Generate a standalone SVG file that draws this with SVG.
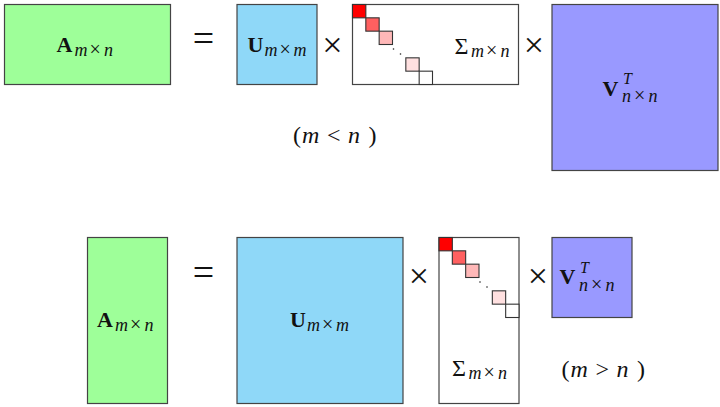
<svg xmlns="http://www.w3.org/2000/svg" width="720" height="407" viewBox="0 0 720 407">
<style>
.box{stroke:#444;stroke-width:1.2}
.a{fill:#9eff99}.u{fill:#8fd8f8}.v{fill:#9999ff}.s{fill:#fff}
.sq{stroke:#333;stroke-width:1.1}
text{font-family:"Liberation Serif","Times New Roman",serif;fill:#111}
.b{font-weight:bold;font-size:22px}
.sub{font-style:italic;font-size:18px}
.subr{font-style:normal;font-size:20px}
.sup{font-style:italic;font-size:16px}
.op{font-size:36px;text-anchor:middle}
.eq{font-size:38px;text-anchor:middle}
.par{font-size:24px}
.it{font-style:italic}
.sig{font-size:24px}
</style>
<rect width="720" height="407" fill="#fff"/>

<!-- top row: m < n -->
<g id="A1">
<rect class="box a" x="4.5" y="4.5" width="166" height="80"/>
<text><tspan class="b" x="56.5" y="52">A</tspan><tspan class="sub" x="74.5" y="55.5">m</tspan><tspan class="subr" x="89.5" y="55.5">×</tspan><tspan class="sub" x="104" y="55.5">n</tspan></text>
</g>
<text class="eq" x="203.5" y="51">=</text>
<g id="U1">
<rect class="box u" x="237" y="4.5" width="80" height="80"/>
<text><tspan class="b" x="247.5" y="52">U</tspan><tspan class="sub" x="264.5" y="55.5">m</tspan><tspan class="subr" x="279.5" y="55.5">×</tspan><tspan class="sub" x="293.5" y="55.5">m</tspan></text>
</g>
<text class="op" x="332.5" y="57">×</text>
<g id="S1">
<rect class="box s" x="352.5" y="4.5" width="166" height="80"/>
<rect class="sq" fill="#ff0000" x="352.5" y="4.5" width="13.33" height="13.33"/>
<rect class="sq" fill="#ff6060" x="365.83" y="17.83" width="13.33" height="13.33"/>
<rect class="sq" fill="#ffb8b8" x="379.17" y="31.17" width="13.33" height="13.33"/>
<circle cx="393.5" cy="49" r="0.8" fill="#222"/>
<circle cx="400.5" cy="54" r="0.8" fill="#222"/>
<rect class="sq" fill="#ffe0e0" x="405.83" y="57.83" width="13.33" height="13.33"/>
<rect class="sq" fill="#ffffff" x="419.17" y="71.17" width="13.33" height="13.33"/>
<text><tspan class="sig" x="454.5" y="53.5">Σ</tspan><tspan class="sub" x="471" y="57">m</tspan><tspan class="subr" x="486" y="57">×</tspan><tspan class="sub" x="500.5" y="57">n</tspan></text>
</g>
<text class="op" x="534" y="57">×</text>
<g id="V1">
<rect class="box v" x="552" y="4.5" width="166" height="166"/>
<text><tspan class="b" x="602.5" y="95.5">V</tspan><tspan class="sup" x="623" y="84">T</tspan><tspan class="sub" x="622" y="102">n</tspan><tspan class="subr" x="634" y="102">×</tspan><tspan class="sub" x="648.5" y="102">n</tspan></text>
</g>
<text class="par"><tspan x="293" y="143">(</tspan><tspan class="it" x="302" y="143">m</tspan><tspan x="327" y="143">&lt;</tspan><tspan class="it" x="348" y="143">n</tspan><tspan x="368.5" y="143">)</tspan></text>

<!-- bottom row: m > n -->
<g id="A2">
<rect class="box a" x="87.5" y="237.5" width="80" height="166"/>
<text><tspan class="b" x="97" y="327">A</tspan><tspan class="sub" x="115" y="330.5">m</tspan><tspan class="subr" x="130" y="330.5">×</tspan><tspan class="sub" x="144.5" y="330.5">n</tspan></text>
</g>
<text class="eq" x="203.5" y="285">=</text>
<g id="U2">
<rect class="box u" x="237" y="237.5" width="166" height="166"/>
<text><tspan class="b" x="290" y="327">U</tspan><tspan class="sub" x="307" y="330.5">m</tspan><tspan class="subr" x="322" y="330.5">×</tspan><tspan class="sub" x="336" y="330.5">m</tspan></text>
</g>
<text class="op" x="419" y="287.5">×</text>
<g id="S2">
<rect class="box s" x="439" y="237.5" width="80" height="166"/>
<rect class="sq" fill="#ff0000" x="439" y="237.5" width="13.33" height="13.33"/>
<rect class="sq" fill="#ff6060" x="452.33" y="250.83" width="13.33" height="13.33"/>
<rect class="sq" fill="#ffb8b8" x="465.67" y="264.17" width="13.33" height="13.33"/>
<circle cx="480" cy="282" r="0.8" fill="#222"/>
<circle cx="487" cy="287" r="0.8" fill="#222"/>
<rect class="sq" fill="#ffe0e0" x="492.33" y="290.83" width="13.33" height="13.33"/>
<rect class="sq" fill="#ffffff" x="505.67" y="304.17" width="13.33" height="13.33"/>
<text><tspan class="sig" x="452" y="375.5">Σ</tspan><tspan class="sub" x="468.5" y="379">m</tspan><tspan class="subr" x="483.5" y="379">×</tspan><tspan class="sub" x="498" y="379">n</tspan></text>
</g>
<text class="op" x="538" y="287.5">×</text>
<g id="V2">
<rect class="box v" x="552" y="237.5" width="80" height="80"/>
<text><tspan class="b" x="559.5" y="284">V</tspan><tspan class="sup" x="580" y="272.5">T</tspan><tspan class="sub" x="579" y="290.5">n</tspan><tspan class="subr" x="591" y="290.5">×</tspan><tspan class="sub" x="605.5" y="290.5">n</tspan></text>
</g>
<text class="par"><tspan x="561.5" y="377">(</tspan><tspan class="it" x="570.5" y="377">m</tspan><tspan x="595.5" y="377">&gt;</tspan><tspan class="it" x="616.5" y="377">n</tspan><tspan x="637" y="377">)</tspan></text>
</svg>
